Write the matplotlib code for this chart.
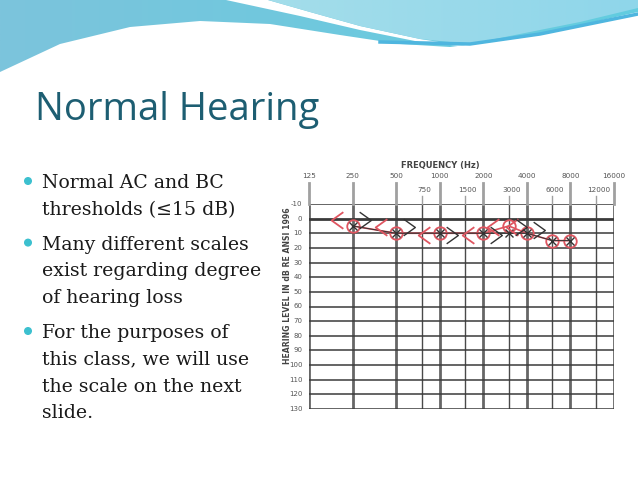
import numpy as np
import matplotlib.pyplot as plt
import matplotlib.transforms as mtransforms
from matplotlib.patches import Polygon, Circle

# ---------------- datos ----------------
octavas = [125, 250, 500, 1000, 2000, 4000, 8000, 16000]
inter_octavas = [750, 1500, 3000, 6000, 12000]
niveles = list(range(-10, 140, 10))

frec_ac = [250, 500, 1000, 2000, 3000, 4000, 6000, 8000]
oido_der_ac = [5, 10, 10, 10, 5, 10, 15, 15]     # O rojo
oido_izq_ac = [5, 10, 10, 10, 10, 10, 15, 15]    # X negro
frec_bc = [250, 500, 1000, 2000, 3000, 4000]
oido_der_bc = [0, 5, 10, 10, 5, 5]               # < rojo
oido_izq_bc = [0, 5, 10, 10, 5, 7]               # > negro

titulo = "Normal Hearing"
vinetas = [
    ["Normal AC and BC", "thresholds (≤15 dB)"],
    ["Many different scales", "exist regarding degree", "of hearing loss"],
    ["For the purposes of", "this class, we will use", "the scale on the next", "slide."],
]

W, H = 638, 479
fig = plt.figure(figsize=(W / 100, H / 100), dpi=100)
fig.patch.set_facecolor('white')

# ---------------- fondo / cabecera ----------------
bg = fig.add_axes([0, 0, 1, 1])
bg.set_xlim(0, W)
bg.set_ylim(H, 0)
bg.axis('off')

def degradado(ax, pts, c1, c2, z):
    poly = Polygon(pts, closed=True, facecolor='none', edgecolor='none')
    ax.add_patch(poly)
    g = np.linspace(0, 1, 256).reshape(1, -1)
    cmap = plt.matplotlib.colors.LinearSegmentedColormap.from_list('g', [c1, c2])
    im = ax.imshow(g, extent=[0, W, 80, 0], cmap=cmap, aspect='auto', zorder=z)
    im.set_clip_path(poly)

zona_a = [(0, 0), (0, 72), (60, 44), (130, 27), (200, 21), (270, 24), (340, 35),
          (400, 44), (450, 47), (520, 38), (580, 25), (638, 12), (638, 0)]
degradado(bg, zona_a, '#7cc4dc', '#62cde0', 1)

franja = [(226, 0), (300, 16), (360, 30), (420, 42), (470, 47),
          (420, 39), (360, 26), (310, 12), (268, 0)]
bg.add_patch(Polygon(franja, closed=True, facecolor='white', edgecolor='none', zorder=2))

zona_b = [(268, 0), (310, 12), (360, 26), (420, 39), (470, 44), (520, 34),
          (580, 22), (638, 8), (638, 0)]
degradado(bg, zona_b, '#b3e3ea', '#8fd6ea', 3)
bg.plot([380, 470, 540, 638], [42, 44, 34, 14], color='#4fb6df', lw=2.5, zorder=4)

# titulo
fig.text(35 / W, 1 - 120 / H, titulo, fontsize=27.5, color='#1d5e72',
         family='Open Sans', va='baseline', ha='left')

# vinetas
y = 188
for bloque in vinetas:
    bg.add_patch(Circle((28, y - 7), 3.3, color='#3cc0cf', zorder=5))
    for linea in bloque:
        fig.text(42 / W, 1 - y / H, linea, fontsize=13.6, color='#1a1a1a',
                 family='DejaVu Serif', va='baseline', ha='left')
        y += 26.8
    y += 8

# ---------------- audiograma ----------------
x0, x1, y0, y1 = 309, 614, 204, 409
ax = fig.add_axes([x0 / W, 1 - y1 / H, (x1 - x0) / W, (y1 - y0) / H])
ax.set_xscale('log')
ax.set_xlim(125, 16000)
ax.set_ylim(130, -10)
ax.set_facecolor('white')
for s in ax.spines.values():
    s.set_visible(False)
ax.set_xticks([])
ax.set_yticks([])
ax.minorticks_off()

tx = ax.get_xaxis_transform()
for f in octavas:
    ax.axvline(f, color='#666666', lw=2.0, zorder=1)
    ax.plot([f, f], [1, 1.10], transform=tx, color='#a0a0a0', lw=2.0, clip_on=False)
    ax.text(f, 1.135, str(f), transform=tx, ha='center', va='center',
            fontsize=5.2, color='#555555')
for f in inter_octavas:
    ax.axvline(f, color='#4a4a4a', lw=1.0, zorder=1)
    ax.plot([f, f], [1, 1.04], transform=tx, color='#a0a0a0', lw=1.0, clip_on=False)
    ax.text(f * 1.04, 1.07, str(f), transform=tx, ha='center', va='center',
            fontsize=5.2, color='#555555')
for n in niveles:
    ax.axhline(n, color='#3a3a3a', lw=2.0 if n == 0 else 1.1, zorder=1)
    ax.text(-0.022, n, str(n), transform=ax.get_yaxis_transform(), ha='right',
            va='center', fontsize=5.0, color='#555555')

ax.text(0.43, 1.19, "FREQUENCY (Hz)", transform=ax.transAxes, ha='center',
        va='center', fontsize=6, fontweight='bold', color='#444444')
ax.text(-0.072, 0.60, "HEARING LEVEL IN dB RE ANSI 1996", transform=ax.transAxes,
        rotation=90, ha='center', va='center', fontsize=5.6, fontweight='bold',
        color='#444444')

rojo = '#df5560'
ax.plot(frec_ac, oido_der_ac, color=rojo, lw=1.2, marker='o', mfc='none',
        mec=rojo, mew=1.3, ms=9, zorder=3)
ax.plot(frec_ac, oido_izq_ac, color='#333333', lw=0.7, marker='x',
        mec='#333333', mew=1.0, ms=6, zorder=4)

# corchetes de via osea (trazo abierto)
menor = [(0.7, 1.0), (-0.7, 0.0), (0.7, -1.0)]
mayor = [(-0.7, 1.0), (0.7, 0.0), (-0.7, -1.0)]
izq = mtransforms.offset_copy(ax.transData, fig=fig, x=-11, y=-1, units='points')
der = mtransforms.offset_copy(ax.transData, fig=fig, x=9, y=-1, units='points')
ax.plot(frec_bc, oido_der_bc, ls='none', marker=menor, mfc='none', mec=rojo,
        mew=1.3, ms=12, transform=izq, clip_on=False, zorder=4)
ax.plot(frec_bc, oido_izq_bc, ls='none', marker=mayor, mfc='none', mec='#333333',
        mew=1.0, ms=12, transform=der, clip_on=False, zorder=4)

fig.savefig('out.png', dpi=100)
